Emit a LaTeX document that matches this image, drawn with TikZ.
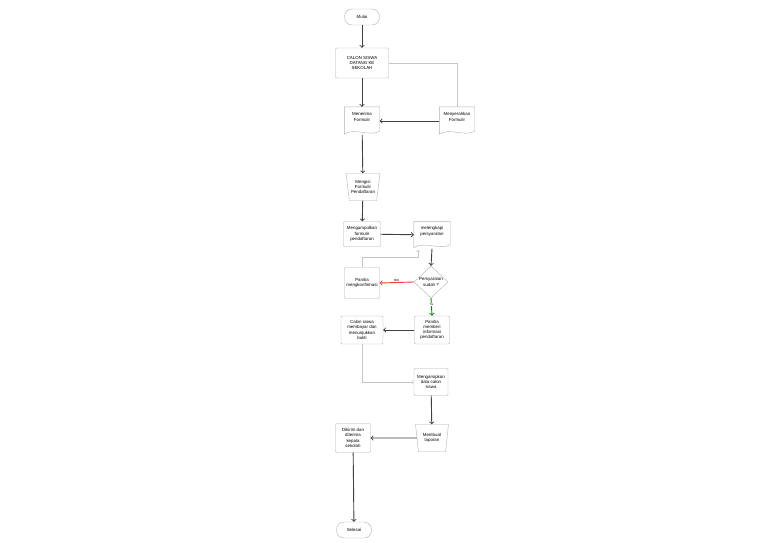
\documentclass[tikz,border=0pt]{standalone}
\usepackage{fontspec}
\setmainfont{Liberation Sans}
\usetikzlibrary{shapes.geometric}
\begin{document}
\begin{tikzpicture}[x=1pt,y=-1pt,font=\fontsize{4.4}{5.2}\selectfont,
        box/.style={draw=gray!60,rounded corners=1pt,align=center,inner sep=1pt},
        term/.style={draw=gray!60,rounded corners=7.5pt,minimum width=35pt,minimum height=16pt},
        doc/.style={align=center,inner sep=1pt,minimum width=35pt,minimum height=28pt},
        manual/.style={draw=gray!60,trapezium,shape border rotate=180,trapezium stretches=true,
            trapezium left angle=78,trapezium right angle=78,minimum width=34pt,minimum height=27pt,align=center,inner sep=0pt},
        flow/.style={->,draw=black!75,line width=0.9pt},
        back/.style={draw=gray!45,line width=0.6pt}]
        \fill[white] (0,0) rectangle (768,543);
        \useasboundingbox (0,0) rectangle (768,543);
        \node[term] (mulai) at (362,17){Mulai};
        \node[box,minimum width=53pt,minimum height=30pt] (calon) at (362,63){CALON SISWA\\DATANG KE\\SEKOLAH};
        \node[doc] (terima) at (362,121){Menerima\\Formulir\\[3pt]};
        \node[doc] (serah) at (457,121){Menyerahkan\\Formulir\\[3pt]};
        \node[manual] (isi) at (363,187){Mengisi\\Formulir\\Pendaftaran};
        \node[box,minimum width=37pt,minimum height=25pt] (kumpul) at (362,234){Mengumpulkan\\formulir\\pendaftaran};
        \node[doc,minimum width=36pt,minimum height=27pt] (lengkap) at (432,235){melengkapi\\persyaratan\\[3pt]};
        \node[draw=gray!60,diamond,minimum width=34pt,minimum height=28pt,inner sep=0pt,align=center] (cek) at (431,282){Persyaratan\\sudah ?};
        \node[box,minimum width=35pt,minimum height=31pt] (konfirm) at (362,283){Panitia\\mengkonfirmasi};
        \node[box,minimum width=35pt,minimum height=28pt] (beri) at (432,330){Panitia\\memberi\\informasi\\pendaftaran};
        \node[box,minimum width=42pt,minimum height=28pt] (bayar) at (362,330){Calon siswa\\membayar dan\\menunjukkan\\bukti};
        \node[box,minimum width=34pt,minimum height=27pt] (arsip) at (431,382){Mengarsipkan\\data calon\\siswa};
        \node[manual,minimum width=33pt] (laporan) at (432,438){Membuat\\laporan};
        \node[box,minimum width=35pt,minimum height=29pt] (kirim) at (353,438){Dikirim dan\\diterima\\kepala\\sekolah};
        \node[term] (selesai) at (354,530){Selesai};
        % document outlines
        \foreach \n in {terima,serah,lengkap}
            \draw[gray!60] (\n.north west) -- (\n.north east) -- ([yshift=4pt]\n.south east)
                .. controls ([xshift=-10pt,yshift=-2pt]\n.south east) and ([xshift=10pt,yshift=8pt]\n.south west) .. ([yshift=1pt]\n.south west) -- cycle;
        \draw[flow] (mulai) to (calon);
        \draw[flow] (calon) to (terima);
        \draw[back] (calon.east) -| (serah.north);
        \draw[flow] (serah.west) to (terima.east);
        \draw[flow] (terima) to (isi);
        \draw[flow] (isi) to (kumpul);
        \draw[flow] (kumpul) to (lengkap);
        \draw[flow] (lengkap.south) to (cek.north);
        \coordinate (lk) at (418,250);
        \draw[back,->] (konfirm.north) -- ++(0,-10) -| (lk);
        \draw[flow,draw=red!80] (cek.west) to node[above,font=\fontsize{3}{3}\selectfont,inner sep=0.5pt]{Blm} (konfirm.east);
        \draw[flow,draw=green!55!black] (cek.south) to node[pos=.35,fill=white,font=\fontsize{3}{3}\selectfont,inner sep=0.5pt]{Ya} (beri.north);
        \draw[flow] (beri) to (bayar);
        \draw[back,->] (bayar.south) |- (arsip.west);
        \draw[flow] (arsip) to (laporan);
        \draw[flow] (laporan) to (kirim);
        \draw[flow] (kirim) to (selesai);
        \end{tikzpicture}
\end{document}
